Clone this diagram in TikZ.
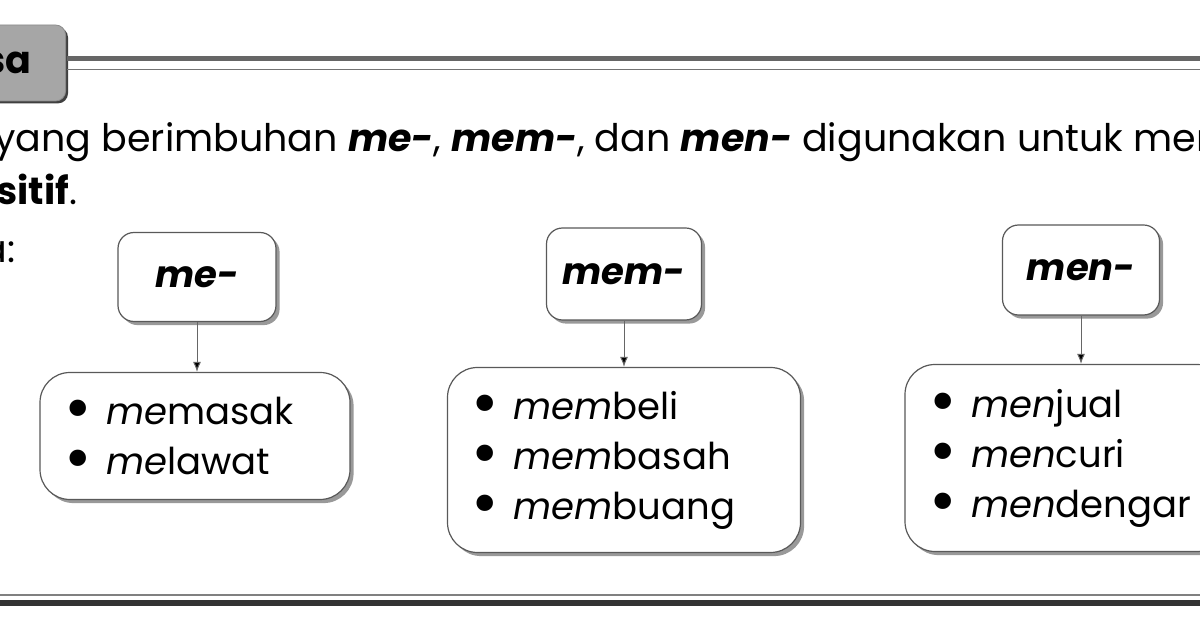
\documentclass[tikz,border=0pt]{standalone}
\usepackage{fontspec}
\setmainfont{Poppins}
\usetikzlibrary{shadows,arrows.meta}
\newcommand\butir{\smash{\raisebox{-0.3ex}{\scalebox{1.8}{\textbullet}}}\nobreak\hspace{0.4em}}

\begin{document}
\begin{tikzpicture}[x=0.5pt,y=-0.5pt,
	lbl/.style={shape=rectangle,draw=black!65,line width=0.6pt,rounded corners=8pt,fill=white,
		drop shadow={shadow xshift=1.8pt,shadow yshift=-1.8pt,fill=black!40,opacity=1},
		font=\fontsize{18.5}{22}\selectfont\bfseries\itshape},
	lst/.style={shape=rectangle,draw=black!65,line width=0.6pt,rounded corners=15pt,fill=white,
		drop shadow={shadow xshift=1.8pt,shadow yshift=-1.8pt,fill=black!40,opacity=1},
		font=\fontsize{18.5}{25}\selectfont,align=left,inner xsep=12pt},
	arr/.style={-{Latex[length=5pt,width=4pt]},draw=black!60,line width=0.5pt},
	txt/.style={font=\fontsize{19}{23}\selectfont,inner sep=0pt}]
	\useasboundingbox (0,0) rectangle (1200,630);
	\fill [white] (0,0) rectangle (1200,630);
	\clip (0,0) rectangle (1200,630);

	% header bar
	\node [shape=rectangle,draw=black!45,fill=black!35,rounded corners=5pt,
		drop shadow={shadow xshift=1.2pt,shadow yshift=-1.2pt,fill=black!75,opacity=1},
		text width=100pt,align=right,inner xsep=17pt,minimum height=38pt,anchor=east,
		font=\fontsize{19}{23}\selectfont\bfseries] (H) at (66,63) {sa};
	\draw [black!60,line width=2.5pt] (67,59) -- (1200,59);
	\draw [black!55,line width=0.5pt] (67,70) -- (1200,70);

	% text above the boxes
	\node [txt,anchor=base west] (T1) at (-6,152) {yang berimbuhan \textbf{\textit{me-}}, \textbf{\textit{mem-}}, dan \textbf{\textit{men-}} digunakan untuk men};
	\node [txt,anchor=base west] (T2) at (-4,205) {\textbf{sitif}.};
	\node [txt,anchor=base east] (T3) at (16,263) {a:};

	% prefixes
	\node [lbl,minimum width=79pt,minimum height=44.5pt] (ME) at (197,277) {me-};
	\node [lbl,minimum width=77.5pt,minimum height=46pt] (MEM) at (624,274) {mem-};
	\node [lbl,minimum width=78.5pt,minimum height=45pt] (MEN) at (1081,270) {men-};

	% words
	\node [lst,text width=131pt,minimum height=63.5pt] (LME) at (195,436)
		{\butir\textit{me}masak\\\butir\textit{me}lawat};
	\node [lst,text width=152.5pt,minimum height=92.5pt] (LMEM) at (624,460)
		{\butir\textit{mem}beli\\\butir\textit{mem}basah\\\butir\textit{mem}buang};
	\node [lst,text width=137pt,minimum height=93.5pt] (LMEN) at (1066,458)
		{\butir\textit{men}jual\\\butir\textit{men}curi\\\butir\textit{men}dengar};

	\path [arr] (ME) edge node {} (ME |- LME.north);
	\path [arr] (MEM) edge node {} (MEM |- LMEM.north);
	\path [arr] (MEN) edge node {} (MEN |- LMEN.north);

	% bottom rule
	\draw [black!50,line width=0.6pt] (0,595) -- (1200,595);
	\draw [black!80,line width=3pt] (0,603) -- (1200,603);
\end{tikzpicture}
\end{document}
